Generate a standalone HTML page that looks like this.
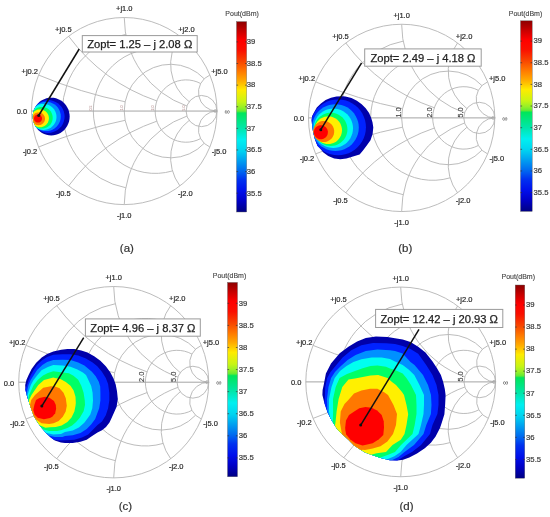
<!DOCTYPE html><html><head><meta charset="utf-8"><title>Smith chart load-pull contours</title><style>html,body{margin:0;padding:0;background:#fff}body{width:550px;height:517px;overflow:hidden}svg{display:block;filter:blur(0.3px)}text{font-family:"Liberation Sans", Arial, sans-serif}</style></head><body>
<svg width="550" height="517" viewBox="0 0 550 517">
<defs><linearGradient id="jet" x1="0" y1="0" x2="0" y2="1">
<stop offset="0" stop-color="#8c0000"/>
<stop offset="0.05" stop-color="#c80000"/>
<stop offset="0.1" stop-color="#ff0000"/>
<stop offset="0.15" stop-color="#fa0f00"/>
<stop offset="0.21" stop-color="#f84600"/>
<stop offset="0.26" stop-color="#ff7800"/>
<stop offset="0.31" stop-color="#ffaa00"/>
<stop offset="0.36" stop-color="#ffeb00"/>
<stop offset="0.42" stop-color="#c8f514"/>
<stop offset="0.45" stop-color="#96f028"/>
<stop offset="0.47" stop-color="#64eb32"/>
<stop offset="0.48" stop-color="#00e65a"/>
<stop offset="0.56" stop-color="#00e6aa"/>
<stop offset="0.62" stop-color="#00f0f0"/>
<stop offset="0.68" stop-color="#00d2f0"/>
<stop offset="0.73" stop-color="#00a0f0"/>
<stop offset="0.79" stop-color="#0064f0"/>
<stop offset="0.83" stop-color="#0032f0"/>
<stop offset="0.89" stop-color="#000feb"/>
<stop offset="0.94" stop-color="#0000c8"/>
<stop offset="1" stop-color="#000082"/>
</linearGradient>
<clipPath id="clipa"><ellipse cx="124.25" cy="111.05" rx="92.75" ry="93.55"/></clipPath>
<clipPath id="clipb"><ellipse cx="401.65" cy="117.9" rx="93.15" ry="93.65"/></clipPath>
<clipPath id="clipc"><ellipse cx="113.7" cy="382.2" rx="95" ry="95.7"/></clipPath>
<clipPath id="clipd"><ellipse cx="400.7" cy="381.9" rx="94.9" ry="94.85"/></clipPath>
</defs>
<g fill="none" stroke="#b4b4b4" stroke-width="0.9">
<ellipse cx="124.25" cy="111.05" rx="92.75" ry="93.55"/>
<ellipse cx="201.54" cy="111.05" rx="15.46" ry="15.59"/>
<ellipse cx="215.48" cy="111.05" rx="1.52" ry="1.53"/>
<path d="M125.77 34.37A77.29 77.96 0 0 0 125.77 187.73M172.48 51.18A61.83 62.37 0 1 0 172.48 170.92M204.21 78.79A46.38 46.77 0 1 0 204.21 143.31M200.63 83.54A30.92 31.18 0 1 0 200.63 138.56M38.63 75.07A463.75 467.75 0 0 0 125.17 101.79M38.63 147.03A463.75 467.75 0 0 1 125.17 120.31M68.6 36.21A185.5 187.1 0 0 0 156.84 100.94M68.6 185.89A185.5 187.1 0 0 1 156.84 121.16M124.25 17.5A92.75 93.55 0 0 0 186.92 105.99M124.25 204.6A92.75 93.55 0 0 1 186.92 116.11M179.9 36.21A46.38 46.77 0 0 0 189.18 101.69M179.9 185.89A46.38 46.77 0 0 1 189.18 120.41M209.87 75.07A18.55 18.71 0 0 0 217 111.05M209.87 147.03A18.55 18.71 0 0 1 217 111.05"/>
<line x1="31.5" y1="111.05" x2="217" y2="111.05" stroke="#a4a4a4" stroke-width="1"/>
</g>
<clipPath id="bca"><polygon points="69.65,116.6 69.49,119.07 69.02,121.49 68.25,123.83 67.18,126.05 65.84,128.11 64.25,129.96 62.43,131.59 60.43,132.97 58.26,134.06 55.98,134.86 53.61,135.34 51.2,135.5 48.79,135.34 46.42,134.86 44.14,134.06 41.98,132.97 39.97,131.59 38.15,129.96 36.56,128.11 35.22,126.05 34.15,123.83 33.38,121.49 32.91,119.07 32.75,116.6 32.91,114.13 33.38,111.71 34.15,109.37 35.22,107.15 36.56,105.09 38.15,103.24 39.97,101.61 41.97,100.23 44.14,99.14 46.42,98.34 48.79,97.86 51.2,97.7 53.61,97.86 55.98,98.34 58.26,99.14 60.43,100.23 62.43,101.61 64.25,103.24 65.84,105.09 67.18,107.15 68.25,109.37 69.02,111.71 69.49,114.13"/></clipPath>
<polygon fill="#0000AA" points="69.65,116.6 69.49,119.07 69.02,121.49 68.25,123.83 67.18,126.05 65.84,128.11 64.25,129.96 62.43,131.59 60.43,132.97 58.26,134.06 55.98,134.86 53.61,135.34 51.2,135.5 48.79,135.34 46.42,134.86 44.14,134.06 41.98,132.97 39.97,131.59 38.15,129.96 36.56,128.11 35.22,126.05 34.15,123.83 33.38,121.49 32.91,119.07 32.75,116.6 32.91,114.13 33.38,111.71 34.15,109.37 35.22,107.15 36.56,105.09 38.15,103.24 39.97,101.61 41.97,100.23 44.14,99.14 46.42,98.34 48.79,97.86 51.2,97.7 53.61,97.86 55.98,98.34 58.26,99.14 60.43,100.23 62.43,101.61 64.25,103.24 65.84,105.09 67.18,107.15 68.25,109.37 69.02,111.71 69.49,114.13"/>
<g clip-path="url(#bca)">
<polygon fill="#0022FF" points="64.6,116.5 64.4,119.07 63.8,121.57 62.81,123.95 61.47,126.14 59.8,128.1 57.84,129.77 55.65,131.11 53.27,132.1 50.77,132.7 48.2,132.9 45.63,132.7 43.13,132.1 40.75,131.11 38.56,129.77 36.6,128.1 34.93,126.14 33.59,123.95 32.6,121.57 32,119.07 31.8,116.5 32,113.93 32.6,111.43 33.59,109.05 34.93,106.86 36.6,104.9 38.56,103.23 40.75,101.89 43.13,100.9 45.63,100.3 48.2,100.1 50.77,100.3 53.27,100.9 55.65,101.89 57.84,103.23 59.8,104.9 61.47,106.86 62.81,109.05 63.8,111.43 64.4,113.93"/>
<polygon fill="#0090FF" points="60.8,116.45 60.62,118.74 60.08,120.98 59.2,123.1 58,125.06 56.51,126.81 54.76,128.3 52.8,129.5 50.68,130.38 48.44,130.92 46.15,131.1 43.86,130.92 41.62,130.38 39.5,129.5 37.54,128.3 35.79,126.81 34.3,125.06 33.1,123.1 32.22,120.98 31.68,118.74 31.5,116.45 31.68,114.16 32.22,111.92 33.1,109.8 34.3,107.84 35.79,106.09 37.54,104.6 39.5,103.4 41.62,102.52 43.86,101.98 46.15,101.8 48.44,101.98 50.68,102.52 52.8,103.4 54.76,104.6 56.51,106.09 58,107.84 59.2,109.8 60.08,111.92 60.62,114.16"/>
<polygon fill="#00FFF0" points="56.5,116.9 56.34,118.93 55.86,120.92 55.08,122.8 54.02,124.54 52.69,126.09 51.14,127.42 49.4,128.48 47.52,129.26 45.53,129.74 43.5,129.9 41.47,129.74 39.48,129.26 37.6,128.48 35.86,127.42 34.31,126.09 32.98,124.54 31.92,122.8 31.14,120.92 30.66,118.93 30.5,116.9 30.66,114.87 31.14,112.88 31.92,111 32.98,109.26 34.31,107.71 35.86,106.38 37.6,105.32 39.48,104.54 41.47,104.06 43.5,103.9 45.53,104.06 47.52,104.54 49.4,105.32 51.14,106.38 52.69,107.71 54.02,109.26 55.08,111 55.86,112.88 56.34,114.87"/>
<polygon fill="#00FF66" points="52.7,117.75 52.57,119.45 52.17,121.1 51.52,122.68 50.63,124.13 49.52,125.42 48.23,126.53 46.78,127.42 45.2,128.07 43.55,128.47 41.85,128.6 40.15,128.47 38.5,128.07 36.92,127.42 35.47,126.53 34.18,125.42 33.07,124.13 32.18,122.68 31.53,121.1 31.13,119.45 31,117.75 31.13,116.05 31.53,114.4 32.18,112.82 33.07,111.37 34.18,110.08 35.47,108.97 36.92,108.08 38.5,107.43 40.15,107.03 41.85,106.9 43.55,107.03 45.2,107.43 46.78,108.08 48.23,108.97 49.52,110.08 50.63,111.37 51.52,112.82 52.17,114.4 52.57,116.05"/>
<polygon fill="#FFF000" points="48.9,118.35 48.79,119.75 48.46,121.12 47.92,122.41 47.19,123.61 46.28,124.68 45.21,125.59 44.01,126.32 42.72,126.86 41.35,127.19 39.95,127.3 38.55,127.19 37.18,126.86 35.89,126.32 34.69,125.59 33.62,124.68 32.71,123.61 31.98,122.41 31.44,121.12 31.11,119.75 31,118.35 31.11,116.95 31.44,115.58 31.98,114.29 32.71,113.09 33.62,112.02 34.69,111.11 35.89,110.38 37.18,109.84 38.55,109.51 39.95,109.4 41.35,109.51 42.72,109.84 44.01,110.38 45.21,111.11 46.28,112.02 47.19,113.09 47.92,114.29 48.46,115.58 48.79,116.95"/>
<polygon fill="#FF7800" points="45,118.8 44.92,119.8 44.69,120.78 44.3,121.71 43.78,122.56 43.13,123.33 42.36,123.98 41.51,124.5 40.58,124.89 39.6,125.12 38.6,125.2 37.6,125.12 36.62,124.89 35.69,124.5 34.84,123.98 34.07,123.33 33.42,122.56 32.9,121.71 32.51,120.78 32.28,119.8 32.2,118.8 32.28,117.8 32.51,116.82 32.9,115.89 33.42,115.04 34.07,114.27 34.84,113.62 35.69,113.1 36.62,112.71 37.6,112.48 38.6,112.4 39.6,112.48 40.58,112.71 41.51,113.1 42.36,113.62 43.13,114.27 43.78,115.04 44.3,115.89 44.69,116.82 44.92,117.8"/>
<polygon fill="#FF0000" points="42,118.6 41.95,119.23 41.8,119.84 41.56,120.42 41.24,120.95 40.83,121.43 40.35,121.84 39.82,122.16 39.24,122.4 38.63,122.55 38,122.6 37.37,122.55 36.76,122.4 36.18,122.16 35.65,121.84 35.17,121.43 34.76,120.95 34.44,120.42 34.2,119.84 34.05,119.23 34,118.6 34.05,117.97 34.2,117.36 34.44,116.78 34.76,116.25 35.17,115.77 35.65,115.36 36.18,115.04 36.76,114.8 37.37,114.65 38,114.6 38.63,114.65 39.24,114.8 39.82,115.04 40.35,115.36 40.83,115.77 41.24,116.25 41.56,116.78 41.8,117.36 41.95,117.97"/>
</g>
<text transform="translate(92.13,110.45) rotate(-90)" font-size="3.6" fill="#a07070">0.5</text>
<text transform="translate(123.05,110.45) rotate(-90)" font-size="3.6" fill="#a07070">1.0</text>
<text transform="translate(153.97,110.45) rotate(-90)" font-size="3.6" fill="#a07070">2.0</text>
<text transform="translate(184.88,110.45) rotate(-90)" font-size="3.6" fill="#a07070">5.0</text>
<text x="124.25" y="11.2" font-size="7.5" fill="#2a2a2a" stroke="#2a2a2a" stroke-width="0.2" text-anchor="middle">+j1.0</text>
<text x="124.25" y="217.6" font-size="7.5" fill="#2a2a2a" stroke="#2a2a2a" stroke-width="0.2" text-anchor="middle">-j1.0</text>
<text x="71.6" y="31.91" font-size="7.5" fill="#2a2a2a" stroke="#2a2a2a" stroke-width="0.2" text-anchor="end">+j0.5</text>
<text x="178.2" y="31.91" font-size="7.5" fill="#2a2a2a" stroke="#2a2a2a" stroke-width="0.2" text-anchor="start">+j2.0</text>
<text x="38.03" y="74.27" font-size="7.5" fill="#2a2a2a" stroke="#2a2a2a" stroke-width="0.2" text-anchor="end">+j0.2</text>
<text x="211.17" y="74.27" font-size="7.5" fill="#2a2a2a" stroke="#2a2a2a" stroke-width="0.2" text-anchor="start">+j5.0</text>
<text x="37.23" y="153.93" font-size="7.5" fill="#2a2a2a" stroke="#2a2a2a" stroke-width="0.2" text-anchor="end">-j0.2</text>
<text x="211.77" y="153.73" font-size="7.5" fill="#2a2a2a" stroke="#2a2a2a" stroke-width="0.2" text-anchor="start">-j5.0</text>
<text x="70.6" y="195.89" font-size="7.5" fill="#2a2a2a" stroke="#2a2a2a" stroke-width="0.2" text-anchor="end">-j0.5</text>
<text x="178.1" y="195.89" font-size="7.5" fill="#2a2a2a" stroke="#2a2a2a" stroke-width="0.2" text-anchor="start">-j2.0</text>
<text x="27.1" y="114.35" font-size="7.5" fill="#2a2a2a" stroke="#2a2a2a" stroke-width="0.2" text-anchor="end">0.0</text>
<text x="227.2" y="114.25" font-size="7.5" fill="#444" text-anchor="middle">∞</text>
<line x1="79.2" y1="49" x2="38.7" y2="115.5" stroke="#111" stroke-width="1.5"/>
<circle cx="38.7" cy="115.5" r="1.5" fill="#111"/>
<rect x="82.3" y="35.6" width="114.9" height="16.4" fill="#fff" stroke="#9a9a9a" stroke-width="1"/>
<text x="139.75" y="47.7" font-size="11.2" fill="#222" stroke="#222" stroke-width="0.25" text-anchor="middle">Zopt= 1.25 – j 2.08 Ω</text>
<rect x="236.5" y="21.6" width="10.2" height="190.4" fill="url(#jet)" stroke="#666" stroke-width="0.4"/>
<text x="242.1" y="15.7" font-size="7" fill="#444" stroke="#444" stroke-width="0.12" text-anchor="middle">Pout(dBm)</text>
<path d="M236.5 41.9h1.6M246.7 41.9h-1.6" stroke="#333" stroke-width="0.7"/>
<text x="246.8" y="44.2" font-size="7.7" fill="#3a3a3a" stroke="#3a3a3a" stroke-width="0.2">39</text>
<path d="M236.5 63.51h1.6M246.7 63.51h-1.6" stroke="#333" stroke-width="0.7"/>
<text x="246.8" y="65.81" font-size="7.7" fill="#3a3a3a" stroke="#3a3a3a" stroke-width="0.2">38.5</text>
<path d="M236.5 85.13h1.6M246.7 85.13h-1.6" stroke="#333" stroke-width="0.7"/>
<text x="246.8" y="87.43" font-size="7.7" fill="#3a3a3a" stroke="#3a3a3a" stroke-width="0.2">38</text>
<path d="M236.5 106.74h1.6M246.7 106.74h-1.6" stroke="#333" stroke-width="0.7"/>
<text x="246.8" y="109.04" font-size="7.7" fill="#3a3a3a" stroke="#3a3a3a" stroke-width="0.2">37.5</text>
<path d="M236.5 128.36h1.6M246.7 128.36h-1.6" stroke="#333" stroke-width="0.7"/>
<text x="246.8" y="130.66" font-size="7.7" fill="#3a3a3a" stroke="#3a3a3a" stroke-width="0.2">37</text>
<path d="M236.5 149.97h1.6M246.7 149.97h-1.6" stroke="#333" stroke-width="0.7"/>
<text x="246.8" y="152.27" font-size="7.7" fill="#3a3a3a" stroke="#3a3a3a" stroke-width="0.2">36.5</text>
<path d="M236.5 171.59h1.6M246.7 171.59h-1.6" stroke="#333" stroke-width="0.7"/>
<text x="246.8" y="173.89" font-size="7.7" fill="#3a3a3a" stroke="#3a3a3a" stroke-width="0.2">36</text>
<path d="M236.5 193.2h1.6M246.7 193.2h-1.6" stroke="#333" stroke-width="0.7"/>
<text x="246.8" y="195.5" font-size="7.7" fill="#3a3a3a" stroke="#3a3a3a" stroke-width="0.2">35.5</text>
<text x="126.9" y="251.6" font-size="11.5" fill="#333" stroke="#333" stroke-width="0.2" text-anchor="middle">(a)</text>
<g fill="none" stroke="#b4b4b4" stroke-width="0.9">
<ellipse cx="401.65" cy="117.9" rx="93.15" ry="93.65"/>
<ellipse cx="479.27" cy="117.9" rx="15.53" ry="15.61"/>
<ellipse cx="493.27" cy="117.9" rx="1.53" ry="1.54"/>
<path d="M403.18 41.14A77.63 78.04 0 0 0 403.18 194.66M450.09 57.96A62.1 62.43 0 1 0 450.09 177.84M481.95 85.61A46.58 46.83 0 1 0 481.95 150.19M478.36 90.36A31.05 31.22 0 1 0 478.36 145.44M315.67 81.88A465.75 468.25 0 0 0 402.57 108.63M315.67 153.92A465.75 468.25 0 0 1 402.57 127.17M345.76 42.98A186.3 187.3 0 0 0 434.38 107.78M345.76 192.82A186.3 187.3 0 0 1 434.38 128.02M401.65 24.25A93.15 93.65 0 0 0 464.59 112.84M401.65 211.55A93.15 93.65 0 0 1 464.59 122.96M457.54 42.98A46.58 46.83 0 0 0 466.85 108.53M457.54 192.82A46.58 46.83 0 0 1 466.85 127.27M487.63 81.88A18.63 18.73 0 0 0 494.8 117.9M487.63 153.92A18.63 18.73 0 0 1 494.8 117.9"/>
<line x1="308.5" y1="117.9" x2="494.8" y2="117.9" stroke="#a4a4a4" stroke-width="1"/>
</g>
<clipPath id="bcb"><polygon points="336.4,96.4 343,96.3 345.4,96.4 351.5,98.1 356.9,100.8 361.7,104.2 365.7,108.2 369.1,113 371.1,117.7 372.5,122.3 373.3,127.4 372.5,134.2 370.5,140.3 367.1,145 363,150.4 359.6,154.5 353,156.6 346.4,158.4 340.3,159.2 334.2,158.4 328.2,156 323.4,152.6 320,148.5 317.5,145.9 314.8,139.1 313.1,132.3 312.1,125.5 311.6,120 312.1,116 314.1,112.3 316.8,107.6 320.9,103.5 325.6,100.1 331,97.8"/></clipPath>
<polygon fill="#0000AA" points="336.4,96.4 343,96.3 345.4,96.4 351.5,98.1 356.9,100.8 361.7,104.2 365.7,108.2 369.1,113 371.1,117.7 372.5,122.3 373.3,127.4 372.5,134.2 370.5,140.3 367.1,145 363,150.4 359.6,154.5 353,156.6 346.4,158.4 340.3,159.2 334.2,158.4 328.2,156 323.4,152.6 320,148.5 317.5,145.9 314.8,139.1 313.1,132.3 312.1,125.5 311.6,120 312.1,116 314.1,112.3 316.8,107.6 320.9,103.5 325.6,100.1 331,97.8"/>
<g clip-path="url(#bcb)">
<polygon fill="#0022FF" points="365.95,127.35 365.71,131 365,134.58 363.82,138.05 362.21,141.32 360.17,144.36 357.76,147.11 355.01,149.52 351.98,151.56 348.7,153.17 345.23,154.35 341.65,155.06 338,155.3 334.35,155.06 330.77,154.35 327.3,153.17 324.02,151.56 320.99,149.52 318.24,147.11 315.83,144.36 313.79,141.32 312.18,138.05 311,134.58 310.29,131 310.05,127.35 310.29,123.7 311,120.12 312.18,116.65 313.79,113.38 315.83,110.34 318.24,107.59 320.99,105.18 324.02,103.14 327.3,101.53 330.77,100.35 334.35,99.64 338,99.4 341.65,99.64 345.23,100.35 348.7,101.53 351.98,103.14 355.01,105.18 357.76,107.59 360.17,110.34 362.21,113.37 363.82,116.65 365,120.12 365.71,123.7"/>
<polygon fill="#0090FF" points="358.8,127.6 358.6,130.65 358,133.66 357.02,136.55 355.66,139.3 353.96,141.85 351.95,144.15 349.65,146.16 347.1,147.86 344.35,149.22 341.46,150.2 338.45,150.8 335.4,151 332.35,150.8 329.34,150.2 326.45,149.22 323.7,147.86 321.15,146.16 318.85,144.15 316.84,141.85 315.14,139.3 313.78,136.55 312.8,133.66 312.2,130.65 312,127.6 312.2,124.55 312.8,121.54 313.78,118.65 315.14,115.9 316.84,113.35 318.85,111.05 321.15,109.04 323.7,107.34 326.45,105.98 329.34,105 332.35,104.4 335.4,104.2 338.45,104.4 341.46,105 344.35,105.98 347.1,107.34 349.65,109.04 351.95,111.05 353.96,113.35 355.66,115.9 357.02,118.65 358,121.54 358.6,124.55"/>
<polygon fill="#00FFF0" points="353,128.3 352.83,130.87 352.33,133.4 351.5,135.84 350.36,138.15 348.93,140.29 347.23,142.23 345.29,143.93 343.15,145.36 340.84,146.5 338.4,147.33 335.87,147.83 333.3,148 330.73,147.83 328.2,147.33 325.76,146.5 323.45,145.36 321.31,143.93 319.37,142.23 317.67,140.29 316.24,138.15 315.1,135.84 314.27,133.4 313.77,130.87 313.6,128.3 313.77,125.73 314.27,123.2 315.1,120.76 316.24,118.45 317.67,116.31 319.37,114.37 321.31,112.67 323.45,111.24 325.76,110.1 328.2,109.27 330.73,108.77 333.3,108.6 335.87,108.77 338.4,109.27 340.84,110.1 343.15,111.24 345.29,112.67 347.23,114.37 348.93,116.31 350.36,118.45 351.5,120.76 352.33,123.2 352.83,125.73"/>
<polygon fill="#00FF66" points="347.4,129.35 347.26,131.52 346.83,133.66 346.13,135.72 345.17,137.67 343.96,139.49 342.52,141.12 340.89,142.56 339.07,143.77 337.12,144.73 335.06,145.43 332.92,145.86 330.75,146 328.58,145.86 326.44,145.43 324.38,144.73 322.43,143.77 320.61,142.56 318.98,141.12 317.54,139.49 316.33,137.67 315.37,135.72 314.67,133.66 314.24,131.52 314.1,129.35 314.24,127.18 314.67,125.04 315.37,122.98 316.33,121.03 317.54,119.21 318.98,117.58 320.61,116.14 322.43,114.93 324.38,113.97 326.44,113.27 328.58,112.84 330.75,112.7 332.92,112.84 335.06,113.27 337.12,113.97 339.07,114.93 340.89,116.14 342.52,117.58 343.96,119.21 345.17,121.02 346.13,122.98 346.83,125.04 347.26,127.18"/>
<polygon fill="#FFF000" points="342,130.2 341.88,132 341.53,133.77 340.95,135.48 340.15,137.1 339.15,138.6 337.96,139.96 336.6,141.15 335.1,142.15 333.48,142.95 331.77,143.53 330,143.88 328.2,144 326.4,143.88 324.63,143.53 322.92,142.95 321.3,142.15 319.8,141.15 318.44,139.96 317.25,138.6 316.25,137.1 315.45,135.48 314.87,133.77 314.52,132 314.4,130.2 314.52,128.4 314.87,126.63 315.45,124.92 316.25,123.3 317.25,121.8 318.44,120.44 319.8,119.25 321.3,118.25 322.92,117.45 324.63,116.87 326.4,116.52 328.2,116.4 330,116.52 331.77,116.87 333.48,117.45 335.1,118.25 336.6,119.25 337.96,120.44 339.15,121.8 340.15,123.3 340.95,124.92 341.53,126.63 341.88,128.4"/>
<polygon fill="#FF7800" points="334.2,131.5 334.11,132.87 333.84,134.22 333.4,135.52 332.79,136.75 332.03,137.89 331.12,138.92 330.09,139.83 328.95,140.59 327.72,141.2 326.42,141.64 325.07,141.91 323.7,142 322.33,141.91 320.98,141.64 319.68,141.2 318.45,140.59 317.31,139.83 316.28,138.92 315.37,137.89 314.61,136.75 314,135.52 313.56,134.22 313.29,132.87 313.2,131.5 313.29,130.13 313.56,128.78 314,127.48 314.61,126.25 315.37,125.11 316.28,124.08 317.31,123.17 318.45,122.41 319.68,121.8 320.98,121.36 322.33,121.09 323.7,121 325.07,121.09 326.42,121.36 327.72,121.8 328.95,122.41 330.09,123.17 331.12,124.08 332.03,125.11 332.79,126.25 333.4,127.48 333.84,128.78 334.11,130.13"/>
<polygon fill="#FF0000" points="327.9,132.2 327.84,133.11 327.66,134.01 327.37,134.88 326.96,135.7 326.45,136.46 325.85,137.15 325.16,137.75 324.4,138.26 323.58,138.67 322.71,138.96 321.81,139.14 320.9,139.2 319.99,139.14 319.09,138.96 318.22,138.67 317.4,138.26 316.64,137.75 315.95,137.15 315.35,136.46 314.84,135.7 314.43,134.88 314.14,134.01 313.96,133.11 313.9,132.2 313.96,131.29 314.14,130.39 314.43,129.52 314.84,128.7 315.35,127.94 315.95,127.25 316.64,126.65 317.4,126.14 318.22,125.73 319.09,125.44 319.99,125.26 320.9,125.2 321.81,125.26 322.71,125.44 323.58,125.73 324.4,126.14 325.16,126.65 325.85,127.25 326.45,127.94 326.96,128.7 327.37,129.52 327.66,130.39 327.84,131.29"/>
</g>
<text transform="translate(400.65,117.6) rotate(-90)" font-size="7.4" fill="#444" stroke="#444" stroke-width="0.15">1.0</text>
<text transform="translate(431.7,117.6) rotate(-90)" font-size="7.4" fill="#444" stroke="#444" stroke-width="0.15">2.0</text>
<text transform="translate(462.75,117.6) rotate(-90)" font-size="7.4" fill="#444" stroke="#444" stroke-width="0.15">5.0</text>
<text x="401.65" y="17.95" font-size="7.5" fill="#2a2a2a" stroke="#2a2a2a" stroke-width="0.2" text-anchor="middle">+j1.0</text>
<text x="401.65" y="224.55" font-size="7.5" fill="#2a2a2a" stroke="#2a2a2a" stroke-width="0.2" text-anchor="middle">-j1.0</text>
<text x="348.76" y="38.68" font-size="7.5" fill="#2a2a2a" stroke="#2a2a2a" stroke-width="0.2" text-anchor="end">+j0.5</text>
<text x="455.84" y="38.68" font-size="7.5" fill="#2a2a2a" stroke="#2a2a2a" stroke-width="0.2" text-anchor="start">+j2.0</text>
<text x="315.07" y="81.08" font-size="7.5" fill="#2a2a2a" stroke="#2a2a2a" stroke-width="0.2" text-anchor="end">+j0.2</text>
<text x="488.93" y="81.08" font-size="7.5" fill="#2a2a2a" stroke="#2a2a2a" stroke-width="0.2" text-anchor="start">+j5.0</text>
<text x="314.27" y="160.82" font-size="7.5" fill="#2a2a2a" stroke="#2a2a2a" stroke-width="0.2" text-anchor="end">-j0.2</text>
<text x="489.53" y="160.62" font-size="7.5" fill="#2a2a2a" stroke="#2a2a2a" stroke-width="0.2" text-anchor="start">-j5.0</text>
<text x="347.76" y="202.82" font-size="7.5" fill="#2a2a2a" stroke="#2a2a2a" stroke-width="0.2" text-anchor="end">-j0.5</text>
<text x="455.74" y="202.82" font-size="7.5" fill="#2a2a2a" stroke="#2a2a2a" stroke-width="0.2" text-anchor="start">-j2.0</text>
<text x="304.1" y="121.2" font-size="7.5" fill="#2a2a2a" stroke="#2a2a2a" stroke-width="0.2" text-anchor="end">0.0</text>
<text x="505" y="121.1" font-size="7.5" fill="#444" text-anchor="middle">∞</text>
<line x1="361.6" y1="62.9" x2="320.8" y2="129.7" stroke="#111" stroke-width="1.5"/>
<circle cx="320.8" cy="129.7" r="1.5" fill="#111"/>
<rect x="364.7" y="48.9" width="116.5" height="17.3" fill="#fff" stroke="#9a9a9a" stroke-width="1"/>
<text x="422.95" y="61.9" font-size="11.2" fill="#222" stroke="#222" stroke-width="0.25" text-anchor="middle">Zopt= 2.49 – j 4.18 Ω</text>
<rect x="520.5" y="20.8" width="11.7" height="190.6" fill="url(#jet)" stroke="#666" stroke-width="0.4"/>
<text x="525.5" y="15.7" font-size="7" fill="#444" stroke="#444" stroke-width="0.12" text-anchor="middle">Pout(dBm)</text>
<path d="M520.5 41.1h1.6M532.2 41.1h-1.6" stroke="#333" stroke-width="0.7"/>
<text x="533.5" y="43.4" font-size="7.7" fill="#3a3a3a" stroke="#3a3a3a" stroke-width="0.2">39</text>
<path d="M520.5 62.74h1.6M532.2 62.74h-1.6" stroke="#333" stroke-width="0.7"/>
<text x="533.5" y="65.04" font-size="7.7" fill="#3a3a3a" stroke="#3a3a3a" stroke-width="0.2">38.5</text>
<path d="M520.5 84.39h1.6M532.2 84.39h-1.6" stroke="#333" stroke-width="0.7"/>
<text x="533.5" y="86.69" font-size="7.7" fill="#3a3a3a" stroke="#3a3a3a" stroke-width="0.2">38</text>
<path d="M520.5 106.03h1.6M532.2 106.03h-1.6" stroke="#333" stroke-width="0.7"/>
<text x="533.5" y="108.33" font-size="7.7" fill="#3a3a3a" stroke="#3a3a3a" stroke-width="0.2">37.5</text>
<path d="M520.5 127.67h1.6M532.2 127.67h-1.6" stroke="#333" stroke-width="0.7"/>
<text x="533.5" y="129.97" font-size="7.7" fill="#3a3a3a" stroke="#3a3a3a" stroke-width="0.2">37</text>
<path d="M520.5 149.31h1.6M532.2 149.31h-1.6" stroke="#333" stroke-width="0.7"/>
<text x="533.5" y="151.61" font-size="7.7" fill="#3a3a3a" stroke="#3a3a3a" stroke-width="0.2">36.5</text>
<path d="M520.5 170.96h1.6M532.2 170.96h-1.6" stroke="#333" stroke-width="0.7"/>
<text x="533.5" y="173.26" font-size="7.7" fill="#3a3a3a" stroke="#3a3a3a" stroke-width="0.2">36</text>
<path d="M520.5 192.6h1.6M532.2 192.6h-1.6" stroke="#333" stroke-width="0.7"/>
<text x="533.5" y="194.9" font-size="7.7" fill="#3a3a3a" stroke="#3a3a3a" stroke-width="0.2">35.5</text>
<text x="405.3" y="251.6" font-size="11.5" fill="#333" stroke="#333" stroke-width="0.2" text-anchor="middle">(b)</text>
<g fill="none" stroke="#b4b4b4" stroke-width="0.9">
<ellipse cx="113.7" cy="382.2" rx="95" ry="95.7"/>
<ellipse cx="192.87" cy="382.2" rx="15.83" ry="15.95"/>
<ellipse cx="207.14" cy="382.2" rx="1.56" ry="1.57"/>
<path d="M115.26 303.76A79.17 79.75 0 0 0 115.26 460.64M163.1 320.95A63.33 63.8 0 1 0 163.1 443.45M195.6 349.2A47.5 47.85 0 1 0 195.6 415.2M191.94 354.05A31.67 31.9 0 1 0 191.94 410.35M26.01 345.39A475 478.5 0 0 0 114.64 372.72M26.01 419.01A475 478.5 0 0 1 114.64 391.68M56.7 305.64A190 191.4 0 0 0 147.08 371.85M56.7 458.76A190 191.4 0 0 1 147.08 392.55M113.7 286.5A95 95.7 0 0 0 177.89 377.03M113.7 477.9A95 95.7 0 0 1 177.89 387.37M170.7 305.64A47.5 47.85 0 0 0 180.2 372.63M170.7 458.76A47.5 47.85 0 0 1 180.2 391.77M201.39 345.39A19 19.14 0 0 0 208.7 382.2M201.39 419.01A19 19.14 0 0 1 208.7 382.2"/>
<line x1="18.7" y1="382.2" x2="208.7" y2="382.2" stroke="#a4a4a4" stroke-width="1"/>
</g>
<clipPath id="bcc"><polygon points="47.1,353.9 53.3,351.6 61.2,349.7 67.4,348.9 74.3,349.1 81.3,350.4 87.5,352.4 94.2,356.2 100.4,360.8 105.8,366.2 110.4,372.4 113.5,378.6 115.7,384.5 117,391.2 117.8,398.9 116.6,406.7 114.3,412.1 111.6,418 109.5,422.5 106,427 102,430.3 97.5,432.6 92.1,436 86.7,439.8 80.5,441.8 72.7,442.9 65,443 60.9,442.5 54.8,440.6 50.1,437.1 45.5,432.4 40.8,427 37,421.6 33.9,416.2 31.5,410 29.3,403.2 27,396.2 25.4,390.1 25.2,385 26.4,380 28.5,375.2 31.6,369 36.2,362.8 41.7,357.4"/></clipPath>
<polygon fill="#0000AA" points="47.1,353.9 53.3,351.6 61.2,349.7 67.4,348.9 74.3,349.1 81.3,350.4 87.5,352.4 94.2,356.2 100.4,360.8 105.8,366.2 110.4,372.4 113.5,378.6 115.7,384.5 117,391.2 117.8,398.9 116.6,406.7 114.3,412.1 111.6,418 109.5,422.5 106,427 102,430.3 97.5,432.6 92.1,436 86.7,439.8 80.5,441.8 72.7,442.9 65,443 60.9,442.5 54.8,440.6 50.1,437.1 45.5,432.4 40.8,427 37,421.6 33.9,416.2 31.5,410 29.3,403.2 27,396.2 25.4,390.1 25.2,385 26.4,380 28.5,375.2 31.6,369 36.2,362.8 41.7,357.4"/>
<g clip-path="url(#bcc)">
<polygon fill="#0022FF" points="27,385 28.7,380 30.8,375 33.6,370 37,365.1 41.7,360.5 47.1,357 53.3,354.7 62.7,354.3 70.5,354.3 78.2,355.5 85.9,358.6 92.6,362.4 97.3,366.2 101.9,371.7 105.8,377.9 108.1,384 109.3,392.7 109.3,400.5 108.1,408.2 105.8,415.2 102,421.5 97.5,425.1 92.9,429.8 88.2,434.4 82,437.5 74.3,439.8 65,440.2 60.9,440.6 54,439.8 50,448 18,412 15,390 25.8,388.5"/>
<polygon fill="#0090FF" points="27.3,390 28.5,385 30.7,380 33.9,375 37.1,370 42.4,365.1 47.1,362 53.3,360.1 62.7,359.7 70.5,360.1 78.2,362.4 84.4,365.5 88,368.6 91.9,371.7 95.7,376.3 98.8,381.7 100.2,386.4 100.4,392.7 100.4,400.5 99.2,408.2 97.5,412.7 95.2,418.9 91.3,424.3 86.7,429 80.5,432.9 72.7,435.2 65,435.9 62.5,437.1 54.8,437.1 48.6,435.5 44,446 15,412 15,393 26.4,393.2"/>
<polygon fill="#00FFF0" points="27.5,395 29.1,390 30.8,385 33.6,380 37.5,375 41.5,370.3 47.9,367 53.3,365.1 62.7,365.5 70.5,366.7 77.4,369.4 82.9,372.5 86,375 89,381.2 91.2,386 92.6,392.7 93,400.5 92.3,408.2 90.3,414.4 88.2,417.4 84.3,422.8 78.9,427.4 72.7,430.5 65,432.1 61,434 53.2,434.4 45.5,432.8 40,442 14,412 18,398 27.8,398.6"/>
<polygon fill="#00FF66" points="28,400 29.1,395 31.4,390 33.7,385 37.7,380 43,375.5 47.9,372.9 53.3,371.3 62.7,372.5 68.9,373.3 73.5,375.7 78.2,379.8 81.3,385.8 83.6,392.8 84.8,400.5 85,405 83.6,411.2 80,417.4 76.1,422.1 72.1,425.5 67.4,427.9 61.6,430 57.1,430.9 49.3,430.9 42.4,429.3 36,438 14,414 18,402 29,401.7"/>
<polygon fill="#FFF000" points="28,405 29,400 31.5,395 34.9,390 38.3,385 44,380 47.9,379 53.3,377.5 55,377.9 60.4,378.9 65.8,382 70.5,385.8 73.6,390.5 75.5,396.7 75.8,402.9 75.5,405.8 74.4,411.6 71.5,417.4 67.4,422.1 61.6,425.5 55.8,427 50,427.3 45.5,427.8 38.5,424.7 32,432 14,416 18,406 27.5,406"/>
<polygon fill="#FF7800" points="30,405 31.2,400 35,395 40.7,390 43.2,387.7 50.9,386.2 55,386.6 59.6,388.2 63.5,392.8 65.8,398.2 66.8,405.8 65.7,411.6 62.8,416.8 58.7,420.9 53.5,423.2 49.3,424 41.6,423.2 35.8,419.3 28,426 16,412 25,406 29,406"/>
<polygon fill="#FF0000" points="36,400 39.5,398 45.3,396.8 49.4,397.8 54,400.9 55.8,405 56.1,408.7 55.2,413.3 52.3,416.8 50,418 43.9,419.3 37.7,417.7 34.6,414.6 33.3,410 34.3,405"/>
</g>
<text transform="translate(144.37,381.9) rotate(-90)" font-size="7.4" fill="#444" stroke="#444" stroke-width="0.15">2.0</text>
<text transform="translate(176.03,381.9) rotate(-90)" font-size="7.4" fill="#444" stroke="#444" stroke-width="0.15">5.0</text>
<text x="113.7" y="280.2" font-size="7.5" fill="#2a2a2a" stroke="#2a2a2a" stroke-width="0.2" text-anchor="middle">+j1.0</text>
<text x="113.7" y="490.9" font-size="7.5" fill="#2a2a2a" stroke="#2a2a2a" stroke-width="0.2" text-anchor="middle">-j1.0</text>
<text x="59.7" y="301.34" font-size="7.5" fill="#2a2a2a" stroke="#2a2a2a" stroke-width="0.2" text-anchor="end">+j0.5</text>
<text x="169" y="301.34" font-size="7.5" fill="#2a2a2a" stroke="#2a2a2a" stroke-width="0.2" text-anchor="start">+j2.0</text>
<text x="25.41" y="344.59" font-size="7.5" fill="#2a2a2a" stroke="#2a2a2a" stroke-width="0.2" text-anchor="end">+j0.2</text>
<text x="202.69" y="344.59" font-size="7.5" fill="#2a2a2a" stroke="#2a2a2a" stroke-width="0.2" text-anchor="start">+j5.0</text>
<text x="24.61" y="425.91" font-size="7.5" fill="#2a2a2a" stroke="#2a2a2a" stroke-width="0.2" text-anchor="end">-j0.2</text>
<text x="203.29" y="425.71" font-size="7.5" fill="#2a2a2a" stroke="#2a2a2a" stroke-width="0.2" text-anchor="start">-j5.0</text>
<text x="58.7" y="468.76" font-size="7.5" fill="#2a2a2a" stroke="#2a2a2a" stroke-width="0.2" text-anchor="end">-j0.5</text>
<text x="168.9" y="468.76" font-size="7.5" fill="#2a2a2a" stroke="#2a2a2a" stroke-width="0.2" text-anchor="start">-j2.0</text>
<text x="14.3" y="385.5" font-size="7.5" fill="#2a2a2a" stroke="#2a2a2a" stroke-width="0.2" text-anchor="end">0.0</text>
<text x="218.9" y="385.4" font-size="7.5" fill="#444" text-anchor="middle">∞</text>
<line x1="83.7" y1="337.6" x2="41.8" y2="406.1" stroke="#111" stroke-width="1.5"/>
<circle cx="41.8" cy="406.1" r="1.5" fill="#111"/>
<rect x="85.4" y="318.9" width="114.9" height="17.3" fill="#fff" stroke="#9a9a9a" stroke-width="1"/>
<text x="142.85" y="331.9" font-size="11.2" fill="#222" stroke="#222" stroke-width="0.25" text-anchor="middle">Zopt= 4.96 – j 8.37 Ω</text>
<rect x="227.5" y="282.4" width="10" height="194.4" fill="url(#jet)" stroke="#666" stroke-width="0.4"/>
<text x="229.5" y="277.6" font-size="7" fill="#444" stroke="#444" stroke-width="0.12" text-anchor="middle">Pout(dBm)</text>
<path d="M227.5 303.3h1.6M237.5 303.3h-1.6" stroke="#333" stroke-width="0.7"/>
<text x="238.8" y="305.6" font-size="7.7" fill="#3a3a3a" stroke="#3a3a3a" stroke-width="0.2">39</text>
<path d="M227.5 325.39h1.6M237.5 325.39h-1.6" stroke="#333" stroke-width="0.7"/>
<text x="238.8" y="327.69" font-size="7.7" fill="#3a3a3a" stroke="#3a3a3a" stroke-width="0.2">38.5</text>
<path d="M227.5 347.47h1.6M237.5 347.47h-1.6" stroke="#333" stroke-width="0.7"/>
<text x="238.8" y="349.77" font-size="7.7" fill="#3a3a3a" stroke="#3a3a3a" stroke-width="0.2">38</text>
<path d="M227.5 369.56h1.6M237.5 369.56h-1.6" stroke="#333" stroke-width="0.7"/>
<text x="238.8" y="371.86" font-size="7.7" fill="#3a3a3a" stroke="#3a3a3a" stroke-width="0.2">37.5</text>
<path d="M227.5 391.64h1.6M237.5 391.64h-1.6" stroke="#333" stroke-width="0.7"/>
<text x="238.8" y="393.94" font-size="7.7" fill="#3a3a3a" stroke="#3a3a3a" stroke-width="0.2">37</text>
<path d="M227.5 413.73h1.6M237.5 413.73h-1.6" stroke="#333" stroke-width="0.7"/>
<text x="238.8" y="416.03" font-size="7.7" fill="#3a3a3a" stroke="#3a3a3a" stroke-width="0.2">36.5</text>
<path d="M227.5 435.81h1.6M237.5 435.81h-1.6" stroke="#333" stroke-width="0.7"/>
<text x="238.8" y="438.11" font-size="7.7" fill="#3a3a3a" stroke="#3a3a3a" stroke-width="0.2">36</text>
<path d="M227.5 457.9h1.6M237.5 457.9h-1.6" stroke="#333" stroke-width="0.7"/>
<text x="238.8" y="460.2" font-size="7.7" fill="#3a3a3a" stroke="#3a3a3a" stroke-width="0.2">35.5</text>
<text x="125.5" y="509.8" font-size="11.5" fill="#333" stroke="#333" stroke-width="0.2" text-anchor="middle">(c)</text>
<g fill="none" stroke="#b4b4b4" stroke-width="0.9">
<ellipse cx="400.7" cy="381.9" rx="94.9" ry="94.85"/>
<ellipse cx="479.78" cy="381.9" rx="15.82" ry="15.81"/>
<ellipse cx="494.04" cy="381.9" rx="1.56" ry="1.55"/>
<path d="M402.26 304.15A79.08 79.04 0 0 0 402.26 459.65M450.05 321.2A63.27 63.23 0 1 0 450.05 442.6M482.51 349.19A47.45 47.42 0 1 0 482.51 414.61M478.85 354A31.63 31.62 0 1 0 478.85 409.8M313.1 345.42A474.5 474.25 0 0 0 401.64 372.51M313.1 418.38A474.5 474.25 0 0 1 401.64 391.29M343.76 306.02A189.8 189.7 0 0 0 434.04 371.65M343.76 457.78A189.8 189.7 0 0 1 434.04 392.15M400.7 287.05A94.9 94.85 0 0 0 464.82 376.77M400.7 476.75A94.9 94.85 0 0 1 464.82 387.03M457.64 306.02A47.45 47.42 0 0 0 467.13 372.41M457.64 457.78A47.45 47.42 0 0 1 467.13 391.38M488.3 345.42A18.98 18.97 0 0 0 495.6 381.9M488.3 418.38A18.98 18.97 0 0 1 495.6 381.9"/>
<line x1="305.8" y1="381.9" x2="495.6" y2="381.9" stroke="#a4a4a4" stroke-width="1"/>
</g>
<clipPath id="bcd"><polygon points="365.8,338 375.9,336.5 387.5,337 395,338.2 402.7,339.4 410.5,342.1 418.2,346.7 425.5,352.5 432.4,361.2 437,368.2 440.9,375.1 443.2,382.1 444.8,389 445.6,395 445.2,403.7 444.4,414.3 442,422 440,428.1 435.6,436.6 430.9,442.8 424.8,448.2 417,453.6 409.3,457.5 403.1,459.8 397.5,460.6 389.8,460.2 380.5,457.9 371.2,454.8 365,452.5 360.9,450.1 354,445.5 348.6,440.1 342.5,434.5 337,429 331.2,419.8 327.4,412 324.3,402.7 322.4,395 322.6,390 323.7,385.1 325.9,373.5 331,363.4 339.7,353.2 348.4,346.7 357.1,341.6"/></clipPath>
<polygon fill="#0000AA" points="365.8,338 375.9,336.5 387.5,337 395,338.2 402.7,339.4 410.5,342.1 418.2,346.7 425.5,352.5 432.4,361.2 437,368.2 440.9,375.1 443.2,382.1 444.8,389 445.6,395 445.2,403.7 444.4,414.3 442,422 440,428.1 435.6,436.6 430.9,442.8 424.8,448.2 417,453.6 409.3,457.5 403.1,459.8 397.5,460.6 389.8,460.2 380.5,457.9 371.2,454.8 365,452.5 360.9,450.1 354,445.5 348.6,440.1 342.5,434.5 337,429 331.2,419.8 327.4,412 324.3,402.7 322.4,395 322.6,390 323.7,385.1 325.9,373.5 331,363.4 339.7,353.2 348.4,346.7 357.1,341.6"/>
<g clip-path="url(#bcd)">
<polygon fill="#0022FF" points="324.3,403 324.8,399 325.2,387 327.2,378 330.5,372 335.5,366 342.6,357.6 351.3,350.3 361.4,345.2 373,343.1 386,343.2 395,344 402.7,346 410.5,349 418.2,353.7 426.2,365 432.5,375 436.5,385 438.5,395 438.5,405 437.4,414 432.5,425 430,434 421,445 412,452 404.6,456 397.5,460.6 395,470 340,455 310,410"/>
<polygon fill="#0090FF" points="327.4,412 327,399 328.5,387 331.1,378 335,372 340.4,366.5 347.6,360 355.6,355 365.8,351 377.4,349.6 390,350.3 395,351 402.7,353.5 410.5,362 414.5,365 423,375 428,385 431,395 431.5,405 430.9,414 426.3,425 423.5,434 414,445 404.5,452 398.5,457 391.3,460.5 388,470 330,450 312,415"/>
<polygon fill="#00FFF0" points="330.5,420 329,411.5 329,399 331.5,387 334.7,378 340,371 346.5,366 353.4,362 361.4,359.2 371.6,357.6 381.7,357.6 390,359 395,361.5 402.7,365.1 408.9,369.7 414.3,375 419.5,385 424,395 424,405 423.5,414 421,425 418.5,434 406.5,445 400.6,452 394.4,456.3 386.7,459.4 383,468 325,445 315,425"/>
<polygon fill="#00FF66" points="332,426 332.8,422.4 333.1,411.5 333,399 335.7,387 339.6,378 347,374 355,371 362.7,368.2 370.5,366 377.4,365.5 386,366.8 390,368.4 395,370 402.7,373.6 406.6,378.2 411,385 416,395 416.5,405 416.5,414 414.7,425 412.5,434 401,445 395,452 388.2,454.8 380.5,457.5 378,466 325,445 318,430"/>
<polygon fill="#FFF000" points="334,430 335.5,422.4 336.6,411.5 338.6,399 342.3,387 348.5,379.5 355,378.5 362.7,377 370.5,375.5 378.2,375 387.5,377.9 392,382 396,385 402,392 404,395 406.5,405 408.2,414 406.5,425 404.5,434 400.8,439.7 392.5,445 386,452 376.6,453.2 371.2,454.8 368,462 330,448 320,435"/>
<polygon fill="#FF7800" points="343,440 339.9,422.4 340.7,411.5 344.5,404 348.1,400.2 354,393.6 361.4,390.5 370.1,388.8 377.4,388.8 384.6,392.4 388,395 393.5,405 397,414 396,425 393,434 387.4,441.6 380.5,446.2 372.7,448.6 365,450.1 362.5,449.7 355,455 330,450"/>
<polygon fill="#FF0000" points="359.3,408.2 365.5,407 371.7,407.8 377.1,410.5 381.7,415.1 383.7,421.3 384,427.5 383.3,435 378.9,439.3 372.7,443.2 365,445.1 362.5,445.5 355.5,443.2 350.1,439.3 346.2,434.6 345.3,430 345.2,427.5 346,420.5 349,415.1 354.6,411.2"/>
</g>
<text transform="translate(462.97,381.6) rotate(-90)" font-size="7.4" fill="#444" stroke="#444" stroke-width="0.15">5.0</text>
<text x="400.7" y="280.75" font-size="7.5" fill="#2a2a2a" stroke="#2a2a2a" stroke-width="0.2" text-anchor="middle">+j1.0</text>
<text x="400.7" y="489.75" font-size="7.5" fill="#2a2a2a" stroke="#2a2a2a" stroke-width="0.2" text-anchor="middle">-j1.0</text>
<text x="346.76" y="301.72" font-size="7.5" fill="#2a2a2a" stroke="#2a2a2a" stroke-width="0.2" text-anchor="end">+j0.5</text>
<text x="455.94" y="301.72" font-size="7.5" fill="#2a2a2a" stroke="#2a2a2a" stroke-width="0.2" text-anchor="start">+j2.0</text>
<text x="312.5" y="344.62" font-size="7.5" fill="#2a2a2a" stroke="#2a2a2a" stroke-width="0.2" text-anchor="end">+j0.2</text>
<text x="489.6" y="344.62" font-size="7.5" fill="#2a2a2a" stroke="#2a2a2a" stroke-width="0.2" text-anchor="start">+j5.0</text>
<text x="311.7" y="425.28" font-size="7.5" fill="#2a2a2a" stroke="#2a2a2a" stroke-width="0.2" text-anchor="end">-j0.2</text>
<text x="490.2" y="425.08" font-size="7.5" fill="#2a2a2a" stroke="#2a2a2a" stroke-width="0.2" text-anchor="start">-j5.0</text>
<text x="345.76" y="467.78" font-size="7.5" fill="#2a2a2a" stroke="#2a2a2a" stroke-width="0.2" text-anchor="end">-j0.5</text>
<text x="455.84" y="467.78" font-size="7.5" fill="#2a2a2a" stroke="#2a2a2a" stroke-width="0.2" text-anchor="start">-j2.0</text>
<text x="301.4" y="385.2" font-size="7.5" fill="#2a2a2a" stroke="#2a2a2a" stroke-width="0.2" text-anchor="end">0.0</text>
<text x="505.8" y="385.1" font-size="7.5" fill="#444" text-anchor="middle">∞</text>
<line x1="419" y1="329.4" x2="360.7" y2="425.1" stroke="#111" stroke-width="1.5"/>
<circle cx="360.7" cy="425.1" r="1.5" fill="#111"/>
<rect x="375.6" y="309.4" width="127.2" height="18.1" fill="#fff" stroke="#9a9a9a" stroke-width="1"/>
<text x="439.2" y="323.2" font-size="11.2" fill="#222" stroke="#222" stroke-width="0.25" text-anchor="middle">Zopt= 12.42 – j 20.93 Ω</text>
<rect x="515.2" y="285" width="9.6" height="193.2" fill="url(#jet)" stroke="#666" stroke-width="0.4"/>
<text x="518.3" y="279.4" font-size="7" fill="#444" stroke="#444" stroke-width="0.12" text-anchor="middle">Pout(dBm)</text>
<path d="M515.2 305h1.6M524.8 305h-1.6" stroke="#333" stroke-width="0.7"/>
<text x="526.1" y="307.3" font-size="7.7" fill="#3a3a3a" stroke="#3a3a3a" stroke-width="0.2">39</text>
<path d="M515.2 327.06h1.6M524.8 327.06h-1.6" stroke="#333" stroke-width="0.7"/>
<text x="526.1" y="329.36" font-size="7.7" fill="#3a3a3a" stroke="#3a3a3a" stroke-width="0.2">38.5</text>
<path d="M515.2 349.11h1.6M524.8 349.11h-1.6" stroke="#333" stroke-width="0.7"/>
<text x="526.1" y="351.41" font-size="7.7" fill="#3a3a3a" stroke="#3a3a3a" stroke-width="0.2">38</text>
<path d="M515.2 371.17h1.6M524.8 371.17h-1.6" stroke="#333" stroke-width="0.7"/>
<text x="526.1" y="373.47" font-size="7.7" fill="#3a3a3a" stroke="#3a3a3a" stroke-width="0.2">37.5</text>
<path d="M515.2 393.23h1.6M524.8 393.23h-1.6" stroke="#333" stroke-width="0.7"/>
<text x="526.1" y="395.53" font-size="7.7" fill="#3a3a3a" stroke="#3a3a3a" stroke-width="0.2">37</text>
<path d="M515.2 415.29h1.6M524.8 415.29h-1.6" stroke="#333" stroke-width="0.7"/>
<text x="526.1" y="417.59" font-size="7.7" fill="#3a3a3a" stroke="#3a3a3a" stroke-width="0.2">36.5</text>
<path d="M515.2 437.34h1.6M524.8 437.34h-1.6" stroke="#333" stroke-width="0.7"/>
<text x="526.1" y="439.64" font-size="7.7" fill="#3a3a3a" stroke="#3a3a3a" stroke-width="0.2">36</text>
<path d="M515.2 459.4h1.6M524.8 459.4h-1.6" stroke="#333" stroke-width="0.7"/>
<text x="526.1" y="461.7" font-size="7.7" fill="#3a3a3a" stroke="#3a3a3a" stroke-width="0.2">35.5</text>
<text x="406.5" y="509.8" font-size="11.5" fill="#333" stroke="#333" stroke-width="0.2" text-anchor="middle">(d)</text>
</svg></body></html>
